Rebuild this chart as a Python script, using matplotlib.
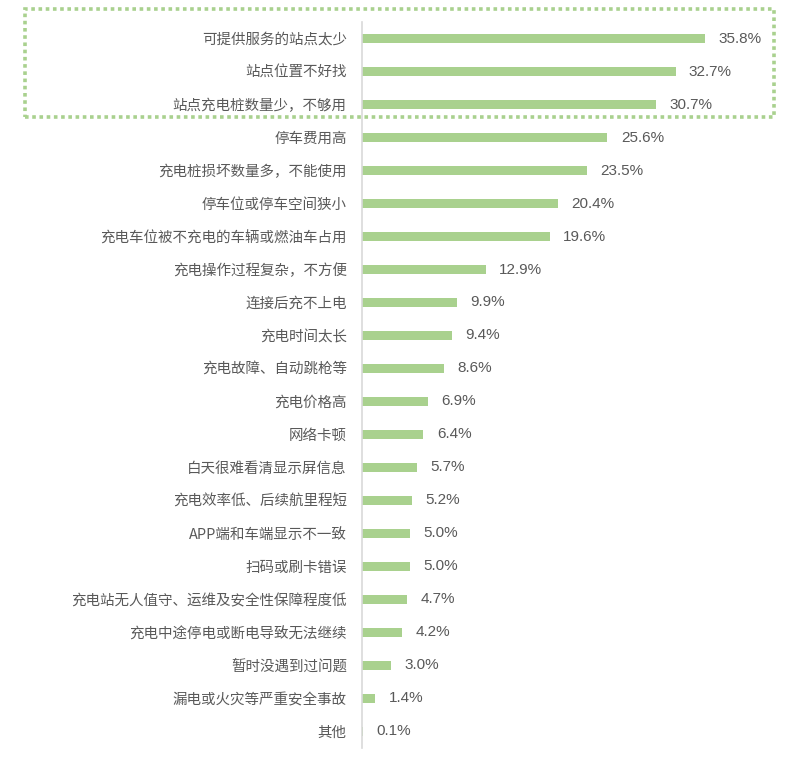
import matplotlib

matplotlib.use("Agg")
import matplotlib.pyplot as plt
from matplotlib.patches import Rectangle

plt.rcParams["font.family"] = ["Noto Sans CJK SC", "DejaVu Sans"]

categories = [
    "可提供服务的站点太少",
    "站点位置不好找",
    "站点充电桩数量少，不够用",
    "停车费用高",
    "充电桩损坏数量多，不能使用",
    "停车位或停车空间狭小",
    "充电车位被不充电的车辆或燃油车占用",
    "充电操作过程复杂，不方便",
    "连接后充不上电",
    "充电时间太长",
    "充电故障、自动跳枪等",
    "充电价格高",
    "网络卡顿",
    "白天很难看清显示屏信息",
    "充电效率低、后续航里程短",
    "APP端和车端显示不一致",
    "扫码或刷卡错误",
    "充电站无人值守、运维及安全性保障程度低",
    "充电中途停电或断电导致无法继续",
    "暂时没遇到过问题",
    "漏电或火灾等严重安全事故",
    "其他",
]
values = [35.8, 32.7, 30.7, 25.6, 23.5, 20.4, 19.6, 12.9, 9.9, 9.4, 8.6,
          6.9, 6.4, 5.7, 5.2, 5.0, 5.0, 4.7, 4.2, 3.0, 1.4, 0.1]

BAR = "#a9d18e"
TEXT = "#595959"

fig = plt.figure(figsize=(8, 7.67), dpi=100)
ax = fig.add_axes([0.4525, 0.0248, 0.5225, 0.9465])

y = list(range(len(categories)))
ax.barh(y, values, height=0.3, color=BAR)
for yi, v in zip(y, values):
    ax.text(v + 1.4, yi, f"{v:.1f}%", va="center", ha="left",
            fontsize=11, color=TEXT, family="Liberation Sans")

ax.set_xlim(0, 43.6)
ax.set_ylim(len(categories) - 0.5, -0.5)
ax.set_yticks(y)
ax.set_yticklabels(categories, fontsize=10.45, color=TEXT)
ax.tick_params(axis="y", length=0, pad=11)
ax.set_xticks([])
for side in ["top", "right", "bottom"]:
    ax.spines[side].set_visible(False)
ax.spines["left"].set_color("#d9d9d9")
ax.spines["left"].set_linewidth(1.2)

# dotted highlight around the top three
W, H = 800, 767
x0, x1, y0, y1 = 25, 774, 9, 117
box = Rectangle((x0 / W, 1 - y1 / H), (x1 - x0) / W, (y1 - y0) / H,
                transform=fig.transFigure, fill=False, edgecolor=BAR,
                linewidth=2.6, linestyle=(0, (1, 1)), clip_on=False)
box.set_capstyle("butt")
fig.patches.append(box)

fig.savefig("out.png", dpi=100)
